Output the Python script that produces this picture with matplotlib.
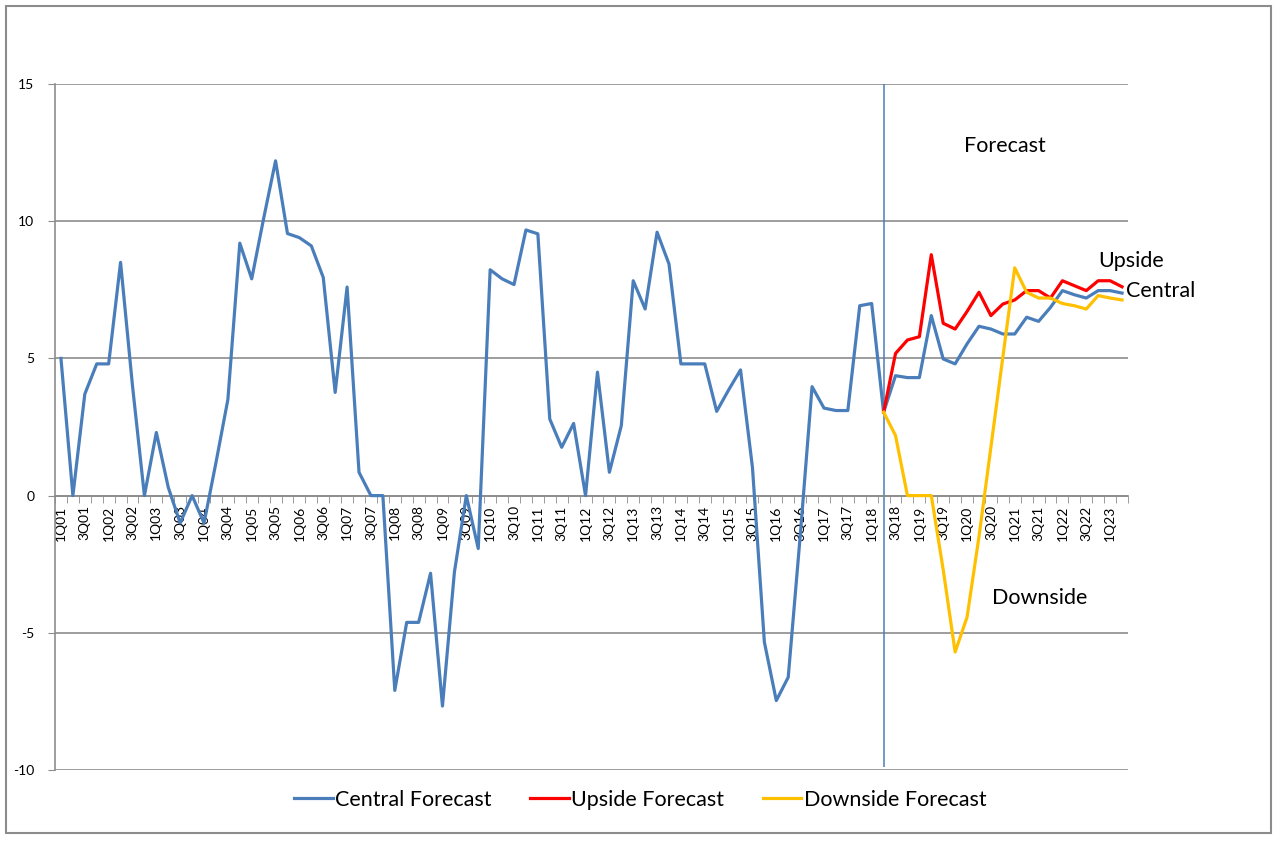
import matplotlib
matplotlib.use("Agg")
import matplotlib.pyplot as plt
from matplotlib.patches import Rectangle
import numpy as np

# quarters 1Q01 .. 2Q23
quarters = [f"{q}Q{y:02d}" for y in range(1, 24) for q in range(1, 5)][:90]

central = [
    5.0, 0.0, 3.7, 4.8, 4.8, 8.5, 4.0, 0.0, 2.3, 0.3,
    -1.0, 0.0, -1.0, 1.2, 3.5, 9.2, 7.9, 10.1, 12.2, 9.55,
    9.4, 9.1, 7.95, 3.76, 7.6, 0.85, 0.0, 0.0, -7.1, -4.62,
    -4.62, -2.83, -7.67, -2.79, 0.0, -1.93, 8.23, 7.9, 7.69, 9.68,
    9.54, 2.79, 1.76, 2.63, 0.0, 4.5, 0.85, 2.55, 7.83, 6.8,
    9.6, 8.44, 4.8, 4.8, 4.8, 3.07, 3.85, 4.58, 1.03, -5.34,
    -7.47, -6.62, -1.5, 3.97, 3.19, 3.1, 3.1, 6.92, 7.0, 3.04,
    4.37, 4.3, 4.3, 6.56, 4.98, 4.8, 5.53, 6.17, 6.07, 5.89,
    5.89, 6.5, 6.35, 6.86, 7.47, 7.32, 7.2, 7.47, 7.47, 7.38,
]

FORECAST_START = 69  # 2Q18

upside = [
    3.04, 5.18, 5.67, 5.79, 8.78, 6.28, 6.07, 6.71, 7.41, 6.56,
    6.98, 7.13, 7.47, 7.47, 7.2, 7.83, 7.65, 7.47, 7.83, 7.83, 7.61,
]

downside = [
    3.04, 2.19, 0.0, 0.0, 0.0, -2.7, -5.7, -4.43, -1.5, 1.76,
    5.04, 8.3, 7.41, 7.2, 7.2, 7.0, 6.92, 6.8, 7.29, 7.2, 7.13,
]

BLUE = "#4a7ebb"
RED = "#ff0000"
YELLOW = "#ffc000"
GRID = "#8c8c8c"

plt.rcParams["font.family"] = ["Lato", "DejaVu Sans"]

W, H = 1280, 842
fig = plt.figure(figsize=(W / 100, H / 100), dpi=100)
ax = fig.add_axes([55 / W, 1 - 770 / H, (1128 - 55) / W, (770 - 84) / H])

x_all = np.arange(len(central))
x_fc = np.arange(FORECAST_START, FORECAST_START + len(upside))

ax.plot(x_all, central, color=BLUE, lw=2.3, label="Central Forecast", zorder=3)
ax.plot(x_fc, upside, color=RED, lw=2.3, label="Upside Forecast", zorder=4)
ax.plot(x_fc, downside, color=YELLOW, lw=2.3, label="Downside Forecast", zorder=5)

# vertical divider where the forecast begins
ax.vlines(FORECAST_START, -9.9, 15, color=BLUE, lw=1.1, zorder=2)

ax.set_xlim(-0.5, len(central) - 0.5)
ax.set_ylim(-10, 15)
ax.yaxis.grid(True, color=GRID, lw=1.2)
ax.set_axisbelow(True)

ax.tick_params(axis="x", which="major", length=0, pad=7, labelsize=10,
               labelrotation=90)
ax.tick_params(axis="x", which="minor", length=5, color=GRID, direction="out")
ax.tick_params(axis="y", length=5, color=GRID, labelsize=10, pad=10)

ax.set_yticks([-10, -5, 0, 5, 10, 15])
ax.set_yticklabels(["-10", "-5", "0", "5", "10", "15"])
ax.set_xticks(x_all[::2])
ax.set_xticklabels(quarters[::2], rotation=90, va="top", ha="center")
ax.set_xticks(np.arange(-0.5, len(central)), minor=True)

for s in ("top", "right"):
    ax.spines[s].set_visible(False)
ax.spines["bottom"].set_position(("data", 0))
ax.spines["bottom"].set_color(GRID)
ax.spines["bottom"].set_linewidth(1.2)
ax.spines["left"].set_color(GRID)
ax.spines["left"].set_linewidth(1.2)

ax.text(79.2, 12.75, "Forecast", fontsize=15.5, ha="center", va="center")
ax.text(87.0, 8.56, "Upside", fontsize=15.5, ha="left", va="center", clip_on=False)
ax.text(89.3, 7.47, "Central", fontsize=15.5, ha="left", va="center", clip_on=False)
ax.text(78.1, -3.75, "Downside", fontsize=15.5, ha="left", va="center")

fig.legend(loc="center", bbox_to_anchor=(640 / W, 1 - 800 / H), ncol=3,
           frameon=False, fontsize=15.5, handlelength=1.8, handletextpad=0.1,
           columnspacing=1.8)

# chart area border
fig.add_artist(Rectangle((6 / W, 1 - 833 / H), (1271 - 6) / W, (833 - 6) / H,
                         transform=fig.transFigure, fill=False,
                         edgecolor=GRID, lw=1.5))

fig.savefig("out.png", dpi=100)
